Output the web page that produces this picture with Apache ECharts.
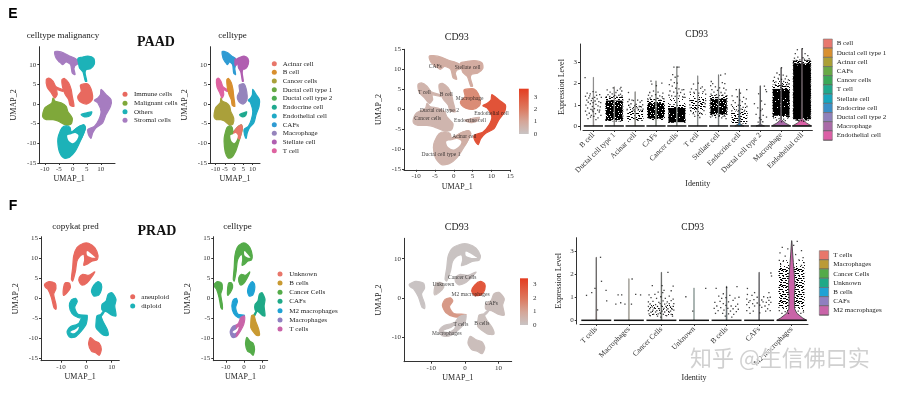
<!DOCTYPE html>
<html><head><meta charset="utf-8">
<style>html,body{margin:0;padding:0;background:#fff}#c{width:906px;height:395px;filter:blur(.4px)}</style>
<script src="https://cdn.jsdelivr.net/npm/echarts@6/dist/echarts.min.js"></script>
</head><body><div id="c"></div>
<script>
// ---------- PAAD data ----------
const paadMalignancy = ['Immune cells','Malignant cells','Others','Stromal cells'];
const paadMalignancyColors = ['#E8695F','#7FA83A','#1CB2B8','#A67CC0'];
const paadTypes = ['Acinar cell','B cell','Cancer cells','Ductal cell type 1','Ductal cell type 2','Endocrine cell','Endothelial cell','CAFs','Macrophage','Stellate cell','T cell'];
const paadTypeColors = ['#E8766A','#D88F2E','#AAA03A','#6AA843','#4EAB52','#1FA98F','#1FA9C6','#2F9BD3','#9584BC','#B05EB0','#DE62A0'];
// UMAP outlines of each cluster
const paadClusters = [
 {n:'CAFs',m:3,e:.75,p:[[-6.5,13.3],[-5.4,13.4],[-3.2,13],[-1.2,12.2],[1,11.5],[.8,9.9],[.4,9],[.8,7.5],[-.2,7.9],[-.8,10],[-2.4,10.7],[-3.6,10],[-4.4,10.5],[-5.1,10.9],[-6,11.7]]},
 {n:'Stellate cell',m:3,e:.7,p:[[.6,11.5],[2,11.1],[2.1,10.4],[.6,9.8]]},
 {n:'Stellate cell',m:2,e:.8,p:[[1.8,11.6],[3.2,11.9],[5.4,12.2],[7.5,11.6],[7.7,10.2],[6.3,9],[4.8,8.8],[4.4,7.9],[5,5.8],[4.5,5.8],[3.6,8.2],[2.4,9.2],[2,10.5]]},
 {n:'Macrophage',m:0,e:1.6,p:[[2.7,4.8],[3.9,5.1],[5.4,5.1],[6.5,3.9],[7.1,2],[6.8,.9],[5.1,0],[3.2,.3],[2,1.1],[1.8,2],[3,3.2]]},
 {n:'T cell',m:0,e:.55,p:[[-9.5,6.2],[-8.6,6.6],[-7.1,5.8],[-6,4.4],[-3.5,3.6],[-3.5,3.2],[-5.7,3.6],[-5.6,2.4],[-6.5,1.5],[-7.7,2.8],[-9.2,4.3]]},
 {n:'B cell',m:0,e:.55,p:[[-3.9,6.2],[-3,6.5],[-1.5,5.4],[-.6,3.7],[-.2,2],[.4,-.6],[-1,-.3],[-1.5,1.1],[-2.7,2.4],[-3.6,4.1]]},
 {n:'Cancer cells',m:1,e:.5,p:[[-10.7,-2.3],[-9.9,-.9],[-7.5,.3],[-7.1,1.5],[-6.3,.7],[-4.2,.3],[-2.4,-.6],[-1.8,-1.9],[-.2,-3.6],[-.6,-5.1],[-2.4,-5.4],[-5.4,-4.3],[-7.1,-4],[-9.5,-4],[-10.7,-3.4]]},
 {n:'Endocrine cell',m:2,e:.6,p:[[3,-2.7],[4.8,-2.3],[6.8,-2],[6.3,-2.9],[4.8,-3.3],[3.6,-3.1]]},
 {n:'Endothelial cell',m:3,e:3,p:[[7.7,.9],[8.9,1.5],[9.9,2.4],[10.1,3.7],[11.9,2.4],[13.7,1.1],[13.5,-.6],[11.9,-2.7],[10.7,-4.8],[8.3,-6.1],[7.1,-7.4],[6.5,-8.8],[5.6,-7.8],[5.4,-6.5],[7.7,-5.7],[9.3,-4],[10.1,-1.9],[8.9,.3]]},
 {n:'Ductal cell type 1',m:2,e:.55,p:[[-5.1,-8],[-3.9,-6.1],[-2.4,-5.6],[-1,-6],[-.6,-7.1],[.8,-6.5],[2.4,-5.7],[3.9,-5.3],[4.5,-6.1],[3.6,-8],[2.4,-9.9],[.8,-12.1],[-1.2,-13.6],[-3.2,-13.8],[-4.8,-12.2],[-5.4,-9.5]]},
 {n:'Acinar cell',m:2,e:.7,p:[[-.3,-7.5],[.8,-6.5],[2.4,-5.7],[3.9,-5.3],[4.5,-6.1],[3.6,-8],[2.8,-9],[1.5,-8.4],[.3,-8.3]]}
];
const paadGaps = [[[-2,-8],[-.6,-7.7],[.8,-7.4],[2,-8],[1.5,-9.1],[0,-10],[-1.5,-9.4]]];
const paadFeatureLabels = [['CAFs',-4.9,10.8],['Stellate cell',3.7,10.4],['T cell',-7.8,4.25],['B cell',-2,3.7],['Macrophage',4.2,2.75],['Ductal cell type 2',-3.8,-.4],['Endothelial cell',10,-1],['Cancer cells',-6.9,-2.3],['Endocrine cell',4.3,-2.7],['Acinar cell',2.8,-6.7],['Ductal cell type 1',-3.4,-11.2]];
const paadVlnCats = ['B cell','Ductal cell type 1','Acinar cell','CAFs','Cancer cells','T cell','Stellate cell','Endocrine cell','Ductal cell type 2','Macrophage','Endothelial cell'];
const paadVlnColors = ['#E8786E','#D9902F','#AB9F35','#68A945','#3AA857','#1FA88C','#17A6BD','#3A8FC7','#8F80BB','#AA6AA8','#DC5FA6'];
// violin outline per category: [expression, half width]
const paadViolin = [
 [[0,.012],[2.3,.005]],[[0,.012],[1.85,.005]],[[0,.012],[1.62,.005]],[[0,.012],[2.13,.005]],[[0,.012],[2.8,.005]],[[0,.012],[2.37,.005]],[[0,.012],[2.42,.005]],
 [[0,.22],[.1,.03],[1.75,.004]],[[0,.2],[.07,.02],[1.9,.004]],[[0,.46],[.14,.2],[.3,.02],[2.75,.004]],[[0,.46],[.14,.22],[.32,.03],[3.65,.004]]
];
const paadViolinStroke = ['#8a8a8a','#8a8a8a','#8a8a8a','#8a8a8a','#8a8a8a','#8a8a8a','#777','#555','#555','#555','#555'];
// dense cloud of cells: [category, low, high, half width, shade]
const paadClouds = [
 [1,.22,1.42,.43,'light'],[1,.28,1.2,.4,'mid'],
 [2,.2,1,.4,'loose'],[2,.25,.72,.38,'light'],
 [3,.28,1.3,.43,'light'],[3,.36,1.08,.39,'mid'],
 [4,.15,1.35,.42,'loose'],[4,.15,1.02,.42,'light'],[4,.18,.85,.4,'dark'],
 [5,.55,1.55,.4,'loose'],[5,.8,1.3,.32,'light'],
 [6,.45,1.45,.43,'light'],[6,.55,1.28,.39,'mid'],
 [7,.1,1,.4,'loose'],[7,.12,.68,.38,'light'],
 [9,.35,2.2,.42,'loose'],[9,.42,1.95,.42,'light'],[9,.48,1.75,.4,'dark'],
 [10,.25,3.1,.44,'light'],[10,.32,2.95,.42,'dark'],[10,.4,2.85,.4,'solid']
];
// individual cells per category: offset, expression, ...
const paadDots = [
 [-.4,2.28,-.02,1.62,.12,1.6,-.3,1.55,-.15,1.52,-.38,1.4,.3,1.48,.38,1.35,-.22,1.32,-.05,1.3,.18,1.28,-.32,1.22,-.1,1.2,.08,1.18,.26,1.15,-.25,1.12,-.02,1.1,.35,1.1,-.15,1.05,.12,1.02,-.36,.98,.22,.95,-.05,.92,.33,.9,-.28,.85,.05,.82,-.12,.78,.2,.75,-.38,.7,-.02,.68,.28,.66,-.2,.6,.1,.58,-.32,.52,.36,.5,.02,.45,-.14,.42,.22,.38,-.26,.35,.12,.3,-.05,.75,.06,1.35,-.18,1.42,.15,1.45,.3,.75,-.1,.5],
 [.32,1.82,.28,1.75,-.05,1.8,.36,1.65,.15,1.68,-.34,1.7,-.2,1.6,.08,1.58,.3,1.5,-.1,1.52,.22,1.45,-.3,1.48,.38,1.42,-.38,1.38,.02,1.44,-.22,1.38,.12,1.36,.34,1.36,-.14,.3,.1,.24,-.28,.27,.3,.22],
 [-.32,1.58,-.28,1.25,-.15,1.22,-.35,1.15,-.08,1.2,.12,1.22,.24,1.12,.32,1.2,-.2,1.05,.05,1.02,.36,1,-.3,.98,-.02,.95,.2,.92,.3,.9,-.25,.88,.1,.85,-.12,.82,.38,.8,-.38,.78,.16,.78,-.05,.76,.27,.75],
 [-.24,2.12,-.2,1.98,.02,1.9,.28,2.02,-.3,1.58,-.12,1.65,.1,1.6,.33,1.55,-.36,1.45,-.2,1.42,-.02,1.48,.18,1.42,.3,1.38,-.28,1.32,.06,1.3,.38,1.28,-.38,1.25,-.1,1.24,.2,1.22],
 [-.14,2.78,.02,2.78,.1,2.78,-.2,2.42,-.08,2.3,.05,2.35,-.28,2.18,-.12,2.05,.02,2.02,-.36,1.95,-.22,1.88,-.05,1.78,.1,1.75,.25,1.7,.33,1.72,-.33,1.65,-.15,1.6,.03,1.55,.18,1.58,.36,1.5,-.38,1.45,-.25,1.42,-.08,1.4,.12,1.42,.28,1.38,.38,1.35],
 [-.2,1.98,.03,2.02,.22,1.85,-.3,1.75,-.08,1.72,.14,1.78,.34,1.7,-.36,1.6,-.18,1.58,.05,1.55,.26,1.62,.38,1.5,-.32,.7,-.1,.68,.12,.62,.3,.72,-.22,.58,.02,.5,.22,.55,-.05,.8,.36,.9,-.38,1,-.38,1.2,.38,1.2,-.36,.85,.36,1.05,.1,.4,-.14,.45],
 [.32,2.46,.1,2.4,-.35,2.1,-.28,2,-.38,1.9,.3,2,.18,2.05,-.15,1.85,.05,1.8,.25,1.78,-.32,1.72,-.05,1.68,.36,1.7,-.22,1.6,.12,1.58,.3,1.55,-.36,1.5,-.1,1.48,.2,1.45,.38,1.42,-.3,.48,.02,.45,.28,.5,-.14,.4,.15,.38,.36,.35,-.38,.42],
 [.35,1.72,-.15,1.72,.05,1.55,-.35,1.42,-.1,1.38,.2,1.35,.33,1.28,-.3,1.2,.02,1.22,.14,1.15,-.2,1.1,.28,1.05,-.38,1,-.05,.98,.36,.92,.18,.88,-.28,.85,.08,.8,-.14,.76,.25,.74,-.36,.72],
 [.2,1.88,.26,1.72,.3,1.62,-.08,1.52,.06,1.18,.22,1.02,-.28,1.05,-.12,.85,.1,.8,.02,.72,-.2,.55,.14,.5,.3,.42,-.04,.38,.04,.3,.12,.2,-.1,.18],
 [.02,2.75,-.2,2.5,-.08,2.42,.1,2.4,.26,2.35,-.32,2.3,-.14,2.25,.02,2.2,.2,2.22,.35,2.18,-.38,2.12,-.25,2.08,.12,2.1,.3,2.05,.38,2,-.28,1.95,-.12,1.9,.06,1.92,.24,1.88,-.36,.38,.34,.4,-.1,.35,.12,.32,-.22,.28,.02,.2,.2,.25],
 [.02,3.65,-.22,3.6,-.32,3.42,.15,3.42,.28,3.32,-.36,3.2,-.2,3.25,.05,3.22,.34,3.18,.38,3.1,-.38,3.08,-.28,3.1,-.1,3.12,.12,3.15,.24,3.1,-.38,2.95,.4,2.9,-.02,.25,.08,.22,-.14,.24,.2,.26,-.28,.27,.3,.26]
];
// ---------- PRAD data ----------
const pradCopykat = ['aneuploid','diploid'];
const pradCopykatColors = ['#E8695F','#1CB2B8'];
const pradTypes = ['Unknown','B cells','Cancer Cells','CAFs','M2 macrophages','Macrophages','T cells'];
const pradTypeColors = ['#E8766A','#C99A32','#54AB49','#1FA987','#1FA2D4','#8F7FC0','#C964A8'];
const pradClusters = [
 {n:'Cancer Cells',m:0,e:.04,p:[[-5.9,4.75],[-5.4,7.7],[-5,10.6],[-3.7,12.7],[-1.05,13.75],[.9,13.75],[3.3,12.7],[4.6,10.75],[4.2,9.6],[2.2,9.3],[.3,8.5],[-1.05,8.25],[-.66,9.6],[-1.05,11],[-2.4,10.6],[-3.7,9.3],[-4.3,6.8],[-5.4,4.3]]},
 {n:'Cancer Cells',m:0,e:.03,p:[[-16.5,3.5],[-14.6,4.2],[-12.3,3.75],[-12,2.4],[-12.9,1],[-12,-1.5],[-12,-2.75],[-12.8,-2.3],[-13.8,.2],[-15.2,2.25],[-16.2,2.8]]},
 {n:'Cancer Cells',m:0,e:.15,p:[[-9,2.7],[-8.3,3.9],[-6.7,3.75],[-6.3,2.7],[-7.6,1.4],[-9,.75]]},
 {n:'Cancer Cells',m:0,e:.1,p:[[-2.8,5.2],[-1.4,6],[.9,5.75],[3.3,6.6],[2.2,5.4],[.3,3.9],[-1.7,3.3],[-2.8,4.1]]},
 {n:'M2 macrophages',m:1,e:2.9,p:[[2,1.8],[2.9,3.25],[4.6,4.2],[5.9,3.5],[5.9,2.1],[4.9,.8],[2.9,.6]]},
 {n:'CAFs',m:1,e:.2,p:[[6.2,-1.5],[7.75,-.7],[8.6,1],[10.1,1.4],[11.7,-.25],[11.2,-1.9],[11.7,-4.4],[10.1,-4.25],[8.2,-3.4],[6.2,-2.9]]},
 {n:'CAFs',m:1,e:.1,p:[[7.25,-3.2],[5.1,-5.1],[4.6,-5.1],[6.7,-3.2]]},
 {n:'B cells',m:1,e:.15,p:[[3.8,-6.25],[4.2,-4.4],[5.5,-4.2],[6.5,-5.7],[8.2,-7.75],[8.6,-9.25],[6.85,-9.25],[4.9,-8.2],[3.8,-7.3]]},
 {n:'M2 macrophages',m:1,e:1.3,p:[[-6.7,-1.9],[-5.9,-.4],[-4.3,0],[-3.6,-.8],[-4.6,-2.3],[-3.3,-4],[.3,-4.25],[-.4,-4.8],[-3.3,-4.8],[-5.7,-3.75]]},
 {n:'Macrophages',m:1,e:.1,p:[[-7.6,-8.2],[-6.3,-7.1],[-4.3,-6.75],[-3.7,-8.2],[-4.3,-9.6],[-6.3,-9.8],[-7.2,-9.25]]},
 {n:'T cells',m:1,e:.1,p:[[-4.3,-6.75],[-3,-6.25],[-1.7,-4.8],[.3,-4.4],[-.1,-6.5],[-2,-8.2],[-4.3,-9.6],[-3.7,-8.2]]},
 {n:'Cancer Cells',m:0,e:.2,p:[[.9,-11.5],[1.6,-9.8],[3.3,-10.7],[5.1,-11.25],[5.9,-12.75],[5.1,-14.25],[3.6,-13.6],[2,-13.2]]}
];
const pradGaps = [[[.3,11.8],[2.9,10.6],[3.6,10.2],[2,10.2],[.3,10.75]],[[-6.3,-8.4],[-4.3,-7.75],[-3,-7.1],[-3.3,-7.9],[-5,-8.75]]];
const pradFeatureLabels = [['Cancer Cells',-.8,5.1],['Unknown',-6.4,3.3],['M2 macrophages',1.7,.85],['CAFs',7.9,-1.4],['T cells',-1.2,-6.8],['B cells',5,-6.6],['Macrophages',-5.4,-9.2]];
const pradVlnCats = ['T cells','Macrophages','Cancer Cells','Unknown','B cells','CAFs','M2 macrophages'];
const pradVlnColors = ['#E8766A','#BB9A35','#54AB49','#1FA987','#1FA2D4','#8F7FC0','#C964A8'];
const pradViolin = [
 [[0,.01],[2.73,.005]],[[0,.012],[1.8,.01]],[[0,.01],[2.08,.005]],[[0,.012],[1.4,.01]],[[0,.01],[1.48,.005]],[[0,.01],[2.08,.005]],
 [[0,.46],[.1,.34],[.3,.16],[.5,.09],[1,.08],[1.5,.1],[2,.08],[2.5,.05],[3,.025],[3.45,.004]]
];
const pradViolinStroke = ['#666','#aaa','#666','#aaa','#666','#666','#444'];
const pradClouds = [[2,.2,.72,.38,'loose'],[6,.4,2.6,.41,'loose'],[6,.55,2.3,.39,'light'],[6,.75,1.95,.34,'loose']];
const pradDots = [
 [-.3,1.08,-.14,1.2,-.04,1.38,.13,2.73,.16,1.69,.3,1.3,.32,.84,.04,.45],
 [-.4,.7,-.33,1.1,-.22,1.1,-.25,.76,-.12,.7,.1,1.79,.21,1.12,.36,1.1,.08,.7],
 [.2,2.08,-.28,1.5,.02,1.5,.36,1.48,.08,1.3,.3,1.28,-.38,1.1,-.2,1.12,-.1,1.22,.04,1.2,.24,1.05,-.32,.98,-.15,.95,-.02,1.02,.12,.95,.36,.92,-.4,.8,-.26,.82,-.08,.78,.05,.84,.18,.8,.3,.85,-.35,.7,-.18,.68,-.04,.72,.1,.7,.24,.72,.38,.72,-.4,.6,-.28,.58,-.12,.6,0,.62,.14,.6,.28,.58,.36,.6,-.36,.5,-.22,.52,-.06,.5,.08,.52,.2,.5,.33,.48,-.4,.42,-.26,.44,-.14,.42,.02,.4,.16,.44,.28,.4,.38,.44,-.32,.35,-.18,.36,-.04,.32,.1,.36,.24,.34,-.38,.28,-.24,.26,-.1,.28,.06,.26,.3,.26,-.34,.2,-.12,.18,.16,.2,.34,.18,-.02,.14],
 [-.25,1.02,-.04,.4,.36,1.38],
 [.32,1.46,0,1.42,-.32,1.38,-.1,1.15,-.24,1.05,.1,1.08,.38,1,-.15,.95,-.02,.98,.26,.96,-.36,.78,-.2,.82,.06,.8,.2,.86,-.1,.72,.34,.7,-.3,.62,-.02,.65,.14,.62,.28,.6,-.38,.52,-.18,.55,.04,.52,.2,.5,.36,.48,-.26,.42,-.08,.44,.12,.4,.3,.38,-.34,.3,-.12,.3,.06,.28,.22,.26,-.04,.18,.16,.14],
 [.36,2.05,.38,1.92,-.36,1.38,-.14,1.2,.3,1.2,-.36,1.12,-.22,1.08,-.06,1,.14,1.02,.26,.98,.34,1,-.38,.92,-.28,.85,-.16,.9,.08,.88,.3,.86,-.32,.78,-.2,.72,-.06,.75,.12,.8,.22,.78,.36,.78,-.38,.68,-.14,.62,.02,.66,.18,.62,.3,.68,-.3,.55,.08,.56,.26,.5,-.38,.42,-.18,.4,.2,.4,.34,.42,-.28,.3,.02,.32],
 [.17,3.42,-.29,3.16,-.12,3.1,.06,3.25,.3,3.02,-.36,2.92,-.2,2.78,.12,2.85,.35,2.72,-.38,2.6,-.26,2.55,.22,2.62,.38,2.5,-.34,2.42,.3,2.38,-.38,.42,-.2,.38,.2,.4,.36,.36,-.3,.3,.28,.3,-.1,.3]
];
const watermarkText = '知乎 @生信佛曰实';

// ---------- helpers ----------
const SERIF = '"Liberation Serif","Times New Roman",serif';
const AXC = '#333';
const option = {animation:false,backgroundColor:'#fff',title:[],grid:[],xAxis:[],yAxis:[],series:[],graphic:{elements:[]}};
const hexToRgb = h => [1,3,5].map(i=>parseInt(h.substr(i,2),16));
function featureColor(v){
  const stops=[[0,'#C9C4C4'],[1,'#D5A698'],[2,'#DD7A60'],[3.6,'#E43C20']];
  for(let i=1;i<stops.length;i++){ if(v<=stops[i][0]){
    const t=(v-stops[i-1][0])/(stops[i][0]-stops[i-1][0]); const a=hexToRgb(stops[i-1][1]),b=hexToRgb(stops[i][1]);
    return 'rgb('+a.map((x,k)=>Math.round(x+(b[k]-x)*t)).join(',')+')'; } }
  return stops[3][1];
}
function addTitle(text,x,y,size,opts){
  option.title.push(Object.assign({text,left:x,top:y-size*.62,textAlign:'center',padding:0,textStyle:{fontFamily:SERIF,fontSize:size,fontWeight:'normal',color:'#1a1a1a'}},opts||{}));
}
function axisBase(extra){
  return Object.assign({axisLine:{show:true,onZero:false,lineStyle:{color:AXC,width:1}},splitLine:{show:false},axisTick:{show:true,length:2,lineStyle:{color:AXC}},
    nameLocation:'middle',nameTextStyle:{fontFamily:SERIF,fontSize:8,color:'#1a1a1a'},z:5},extra);
}
function umap(rect,xr,yr,xt,yt,xGap,yGap,xPad,clusters,colorOf,gaps){
  const g=option.grid.length; option.grid.push({left:rect[0],top:rect[1],width:rect[2]-rect[0],height:rect[3]-rect[1]});
  const xi=option.xAxis.length, yi=option.yAxis.length;
  option.xAxis.push(axisBase({type:'value',gridIndex:g,min:xr[0],max:xr[1],name:'UMAP_1',nameGap:xGap,
    nameTextStyle:{fontFamily:SERIF,fontSize:8,color:'#1a1a1a',padding:xPad?[0,xPad,0,0]:0},
    axisTick:{show:true,length:2,customValues:xt,lineStyle:{color:AXC}},axisLabel:{customValues:xt,margin:3,fontFamily:SERIF,fontSize:7,color:'#333'}}));
  option.yAxis.push(axisBase({type:'value',gridIndex:g,min:yr[0],max:yr[1],name:'UMAP_2',nameGap:yGap,
    axisTick:{show:true,length:2,customValues:yt,lineStyle:{color:AXC}},axisLabel:{customValues:yt,margin:3,fontFamily:SERIF,fontSize:7,color:'#333'}}));
  option.series.push({type:'custom',name:'clusters',coordinateSystem:'cartesian2d',xAxisIndex:xi,yAxisIndex:yi,silent:true,
    data:clusters.map((c,i)=>[i]),encode:{x:0},
    renderItem(p,api){const c=clusters[api.value(0)];const col=colorOf(c);
      return {type:'polygon',shape:{points:c.p.map(q=>api.coord(q)),smooth:.25},style:{fill:col,stroke:col,lineWidth:1.2,lineJoin:'round'}};}});
  if(gaps) option.series.push({type:'custom',name:'gaps',coordinateSystem:'cartesian2d',xAxisIndex:xi,yAxisIndex:yi,silent:true,z:3,
    data:gaps.map((c,i)=>[i]),encode:{x:0},
    renderItem(p,api){const c=gaps[api.value(0)];
      return {type:'polygon',shape:{points:c.map(q=>api.coord(q)),smooth:.3},style:{fill:'#fff'}};}});
  return {xi,yi};
}
function featureLabels(ax,labels){
  option.series.push({type:'scatter',name:'labels',xAxisIndex:ax.xi,yAxisIndex:ax.yi,symbolSize:0,silent:true,z:6,
    data:labels.map(l=>({name:l[0],value:[l[1],l[2]]})),
    label:{show:true,position:'inside',formatter:'{b}',fontFamily:SERIF,fontSize:5.5,color:'#111'}});
}
function colorbar(rect,maxV,ticks){
  const g=option.grid.length; option.grid.push({left:rect[0],top:rect[1],width:rect[2]-rect[0],height:rect[3]-rect[1]});
  const xi=option.xAxis.length, yi=option.yAxis.length;
  option.xAxis.push({type:'value',gridIndex:g,show:false,min:0,max:1});
  option.yAxis.push({type:'value',gridIndex:g,position:'right',min:0,max:maxV,axisLine:{show:false},splitLine:{show:false},
    axisTick:{show:false,customValues:ticks},axisLabel:{customValues:ticks,margin:5,fontFamily:SERIF,fontSize:7,color:'#333'}});
  const stops=[0,.28,.56,1].map(o=>({offset:1-o,color:featureColor(o*3.6)})).reverse();
  option.series.push({type:'custom',name:'CD93 scale',coordinateSystem:'cartesian2d',xAxisIndex:xi,yAxisIndex:yi,silent:true,data:[[0,maxV]],
    encode:{x:0,y:1},
    renderItem(p,api){const a=api.coord([0,maxV]),b=api.coord([1,0]);
      return {type:'rect',shape:{x:a[0],y:a[1],width:b[0]-a[0],height:b[1]-a[1]},
        style:{fill:{type:'linear',x:0,y:0,x2:0,y2:1,colorStops:stops}}};}});
}
// speckle tiles standing in for thousands of overlapping cells
const tileSpots=[[1,2],[5,0],[10,3],[13,1],[3,6],[7,5],[12,7],[15,4],[0,10],[4,9],[9,11],[12,10],[2,14],[6,13],[10,15],[14,13],[6,2],[11,1],[2,4],[14,3],[9,6],[5,7],[0,6],[13,8],[7,9],[2,11],[10,9],[15,10],[4,12],[12,12],[8,14],[0,13],[15,15],[3,1],[7,15],[11,5],[1,8],[6,11],[13,14],[9,13],[8,1],[4,4],[14,6],[7,12],[1,15],[11,13]];
function makeTile(bg,fg,n,w){
  const c=document.createElement('canvas');c.width=c.height=16;const x=c.getContext('2d');
  if(bg){x.fillStyle=bg;x.fillRect(0,0,16,16);} x.fillStyle=fg;
  tileSpots.slice(0,n).forEach(s=>x.fillRect(s[0],s[1],w,1));
  return c;
}
const shades={loose:{image:makeTile(null,'#111',20,1),repeat:'repeat'},light:{image:makeTile(null,'#000',46,2),repeat:'repeat'},
  mid:{image:makeTile('#000','#fff',28,1),repeat:'repeat'},dark:{image:makeTile('#000','#fff',12,1),repeat:'repeat'},solid:'#000'};
function violinPanel(rect,yr,yt,cats,colors,violin,clouds,dots,yOffset,yGap,labelSize,vlnStroke){
  const g=option.grid.length; option.grid.push({left:rect[0],top:rect[1],width:rect[2]-rect[0],height:rect[3]-rect[1]});
  const xi=option.xAxis.length, yi=option.yAxis.length;
  option.xAxis.push(axisBase({type:'category',gridIndex:g,data:cats,name:'Identity',nameGap:rect[4],boundaryGap:true,
    axisTick:{show:true,length:2,alignWithLabel:true,lineStyle:{color:AXC}},
    axisLabel:{interval:0,rotate:45,margin:4,fontFamily:SERIF,fontSize:labelSize,color:'#333'}}));
  option.xAxis.push({type:'value',gridIndex:g,show:false,min:-.5,max:cats.length-.5});
  option.yAxis.push(axisBase({type:'value',gridIndex:g,min:yr[0],max:yr[1],offset:yOffset,name:'Expression Level',nameGap:yGap,
    axisTick:{show:true,length:2,customValues:yt,lineStyle:{color:AXC}},axisLabel:{customValues:yt,margin:3,fontFamily:SERIF,fontSize:7,color:'#333'}}));
  const vx=xi+1;
  option.series.push({type:'custom',name:'cells',coordinateSystem:'cartesian2d',xAxisIndex:vx,yAxisIndex:yi,silent:true,z:2,
    data:clouds.map((c,i)=>[c[0],i]),encode:{x:0},
    renderItem(p,api){const c=clouds[api.value(1)];const a=api.coord([c[0]-c[3],c[2]]),b=api.coord([c[0]+c[3],c[1]]);
      return {type:'rect',shape:{x:a[0],y:a[1],width:b[0]-a[0],height:b[1]-a[1]},style:{fill:shades[c[4]]}};}});
  option.series.push({type:'custom',name:'violins',coordinateSystem:'cartesian2d',xAxisIndex:vx,yAxisIndex:yi,silent:true,z:3,
    data:cats.map((c,i)=>[i]),encode:{x:0},
    renderItem(p,api){const i=api.value(0),v=violin[i];
      const pts=v.map(q=>api.coord([i-q[1],q[0]])).concat(v.slice().reverse().map(q=>api.coord([i+q[1],q[0]])));
      return {type:'polygon',shape:{points:pts},style:{fill:colors[i],stroke:vlnStroke[i],lineWidth:.9}};}});
  option.series.push({type:'custom',name:'zero cells',coordinateSystem:'cartesian2d',xAxisIndex:vx,yAxisIndex:yi,silent:true,z:4,
    data:cats.map((c,i)=>[i]),encode:{x:0},
    renderItem(p,api){const i=api.value(0);const a=api.coord([i-.46,0]),b=api.coord([i+.46,0]);
      return {type:'line',shape:{x1:a[0],y1:a[1],x2:b[0],y2:b[1]},style:{stroke:'#111',lineWidth:1.5}};}});
  const pts=[];dots.forEach((d,i)=>{for(let k=0;k<d.length;k+=2)pts.push([i+d[k],d[k+1]]);});
  option.series.push({type:'scatter',name:'cells sparse',xAxisIndex:vx,yAxisIndex:yi,symbol:'rect',symbolSize:1.3,silent:true,z:5,data:pts,itemStyle:{color:'#111'}});
}
const G=option.graphic.elements;
function gText(text,x,y,size,extra){
  G.push({type:'text',x,y,silent:true,style:Object.assign({text,fontFamily:SERIF,fontSize:size,fill:'#222',align:'left',verticalAlign:'middle'},extra||{})});
}
function dotLegend(names,colors,dotX,textX,ys,size){
  names.forEach((n,i)=>{
    G.push({type:'circle',silent:true,shape:{cx:dotX,cy:ys[i],r:2.5},style:{fill:colors[i]}});
    gText(n,textX,ys[i],size);
  });
}
function keyLegend(names,colors,x0,x1,y0,key,textX){
  names.forEach((n,i)=>{
    const y=y0+i*key;
    G.push({type:'rect',silent:true,shape:{x:x0,y,width:x1-x0,height:key},style:{fill:colors[i],stroke:'#777',lineWidth:.6}});
    G.push({type:'line',silent:true,shape:{x1:x0,y1:y+key,x2:x1,y2:y+key},style:{stroke:'#333',lineWidth:.6}});
    gText(n,textX,y+key/2,7);
  });
}

// ---------- build panels ----------
const tk15=[-15,-10,-5,0,5,10,15], tkX=[-10,-5,0,5,10], tk15b=[-15,-10,-5,0,5,10];
const paadTypeColor=n=>paadTypeColors[paadTypes.indexOf(n)];
const pradTypeColor=n=>pradTypeColors[pradTypes.indexOf(n)];

umap([39.3,46.7,115,163],[-12,15.1],[-15.05,14.6],tkX,tk15b,12,21,16,paadClusters,c=>paadMalignancyColors[c.m],paadGaps);
umap([210,46.7,260,163],[-13,14],[-15.05,14.6],tkX,tk15b,12,21,0,paadClusters,c=>paadTypeColor(c.n),paadGaps);
const e3=umap([404,49.3,510.5,169.8],[-13.2,15.05],[-15.1,15],[-10,-5,0,5,10,15],tk15,13,21,0,paadClusters,c=>featureColor(c.e),paadGaps);
featureLabels(e3,paadFeatureLabels);
colorbar([519,88.7,528.7,134],3.64,[0,1,2,3]);
violinPanel([583,44,812.4,130,50],[-.19,3.87],[0,1,2,3],paadVlnCats,paadVlnColors,paadViolin,paadClouds,paadDots,3,14,7.5,paadViolinStroke);

umap([41,236.7,119.3,360.7],[-17.9,13],[-15.6,15.4],[-10,0,10],tk15,12,21,0,pradClusters,c=>pradCopykatColors[c.m],pradGaps);
umap([213.3,236.7,267.7,360.7],[-17,13.2],[-15.6,15.4],[-10,0,10],tk15,12,21,0,pradClusters,c=>pradTypeColor(c.n),pradGaps);
const f3=umap([404,238.3,511.7,361.7],[-18.1,13.9],[-16.3,15.2],[-10,0,10],[-10,0,10],12,21,0,pradClusters,c=>featureColor(c.e),pradGaps);
featureLabels(f3,pradFeatureLabels);
colorbar([520,278.3,528,325],3.44,[0,1,2,3]);
violinPanel([580,237.7,808,324,50],[-.16,3.58],[0,1,2,3],pradVlnCats,pradVlnColors,pradViolin,pradClouds,pradDots,3.3,14,7.5,pradViolinStroke);

addTitle('celltype malignancy',63,37,9);
addTitle('PAAD',156,44,14,{textStyle:{fontFamily:SERIF,fontSize:14,fontWeight:'bold',color:'#111'}});
addTitle('celltype',232.5,37,9);
addTitle('CD93',456.7,38.7,10);
addTitle('CD93',696.7,35,9.5);
addTitle('copykat pred',75.5,228,9);
addTitle('PRAD',157,232.7,14,{textStyle:{fontFamily:SERIF,fontSize:14,fontWeight:'bold',color:'#111'}});
addTitle('celltype',237.5,228,9);
addTitle('CD93',456.7,228.3,10);
addTitle('CD93',692.7,228.3,9.5);
addTitle('E',13,15.5,14,{textStyle:{fontFamily:'"Liberation Sans",Arial,sans-serif',fontSize:14,fontWeight:'bold',color:'#000'}});
addTitle('F',13,208,14,{textStyle:{fontFamily:'"Liberation Sans",Arial,sans-serif',fontSize:14,fontWeight:'bold',color:'#000'}});

dotLegend(paadMalignancy,paadMalignancyColors,125,134,[94.3,103.3,111.7,120.3],7);
dotLegend(paadTypes,paadTypeColors,274.3,282.7,[63.7,72.3,81,89.7,98.3,107.3,116,124.7,133.3,142,150.7],7);
keyLegend(paadVlnCats,paadVlnColors,823.3,832.3,39,9.2,836.7);
dotLegend(pradCopykat,pradCopykatColors,132.7,141.3,[296.7,306],7);
dotLegend(pradTypes,pradTypeColors,280,289.3,[274,283,292.3,301.3,310.7,320,329],7);
keyLegend(pradVlnCats,pradVlnColors,819.3,828.7,250.7,9.2,833.3);

G.push({type:'text',x:690,y:358,silent:true,z:100,style:{text:watermarkText,fontFamily:'"Noto Sans CJK SC"',fontSize:22,fill:'rgba(200,200,200,.85)',stroke:'rgba(255,255,255,.85)',lineWidth:1,align:'left',verticalAlign:'middle'}});

const chart=echarts.init(document.getElementById('c'),null,{renderer:'canvas'});
chart.setOption(option);
</script></body></html>
